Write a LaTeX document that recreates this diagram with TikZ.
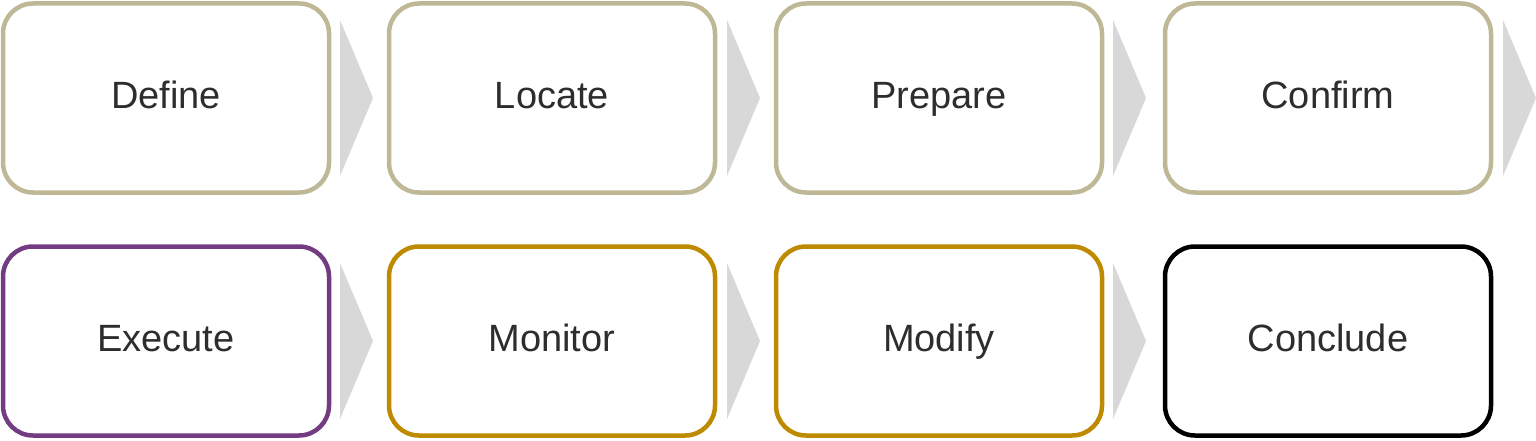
\documentclass[tikz,border=0pt]{standalone}
\usepackage{fontspec}
\setmainfont{Liberation Sans}
\definecolor{tanline}{RGB}{190,184,150}
\definecolor{purpline}{RGB}{115,60,130}
\definecolor{goldline}{RGB}{190,138,0}
\definecolor{chevgray}{RGB}{216,216,216}
\definecolor{txtgray}{RGB}{45,45,45}
\tikzset{every picture/.style={line width=0.75pt}}
\tikzset{
  stepbox/.style={draw, line width=4.5pt, rounded corners=30pt, minimum width=326pt, minimum height=189pt, inner sep=0pt, text=txtgray, text height=28pt, text depth=7pt, font=\fontsize{38}{44}\selectfont},
  chev/.style={fill=chevgray, draw=none}
}
\begin{document}
\begin{tikzpicture}[x=1pt,y=1pt,yscale=-1,xscale=1]
	\useasboundingbox (0,0) rectangle (1536,441);
	
	% Row one
	\node [stepbox, draw=tanline] (define) at (166,98) {Define};
	\node [stepbox, draw=tanline] (locate) at (552,98) {Locate};
	\node [stepbox, draw=tanline] (prepare) at (939,98) {Prepare};
	\node [stepbox, draw=tanline] (confirm) at (1328,98) {Confirm};
	% Row two
	\node [stepbox, draw=purpline] (execute) at (166,341) {Execute};
	\node [stepbox, draw=goldline] (monitor) at (552,341) {Monitor};
	\node [stepbox, draw=goldline] (modify) at (939,341) {Modify};
	\node [stepbox, draw=black] (conclude) at (1328,341) {Conclude};
	
	% Chevrons
	\foreach \cx in {340,727,1113,1503} {
		\fill [chev] (\cx,20) -- (\cx+33,98) -- (\cx,176) -- cycle ;
	}
	\foreach \cx in {340,727,1113} {
		\fill [chev] (\cx,263) -- (\cx+33,341) -- (\cx,419) -- cycle ;
	}
	
\end{tikzpicture}
\end{document}
